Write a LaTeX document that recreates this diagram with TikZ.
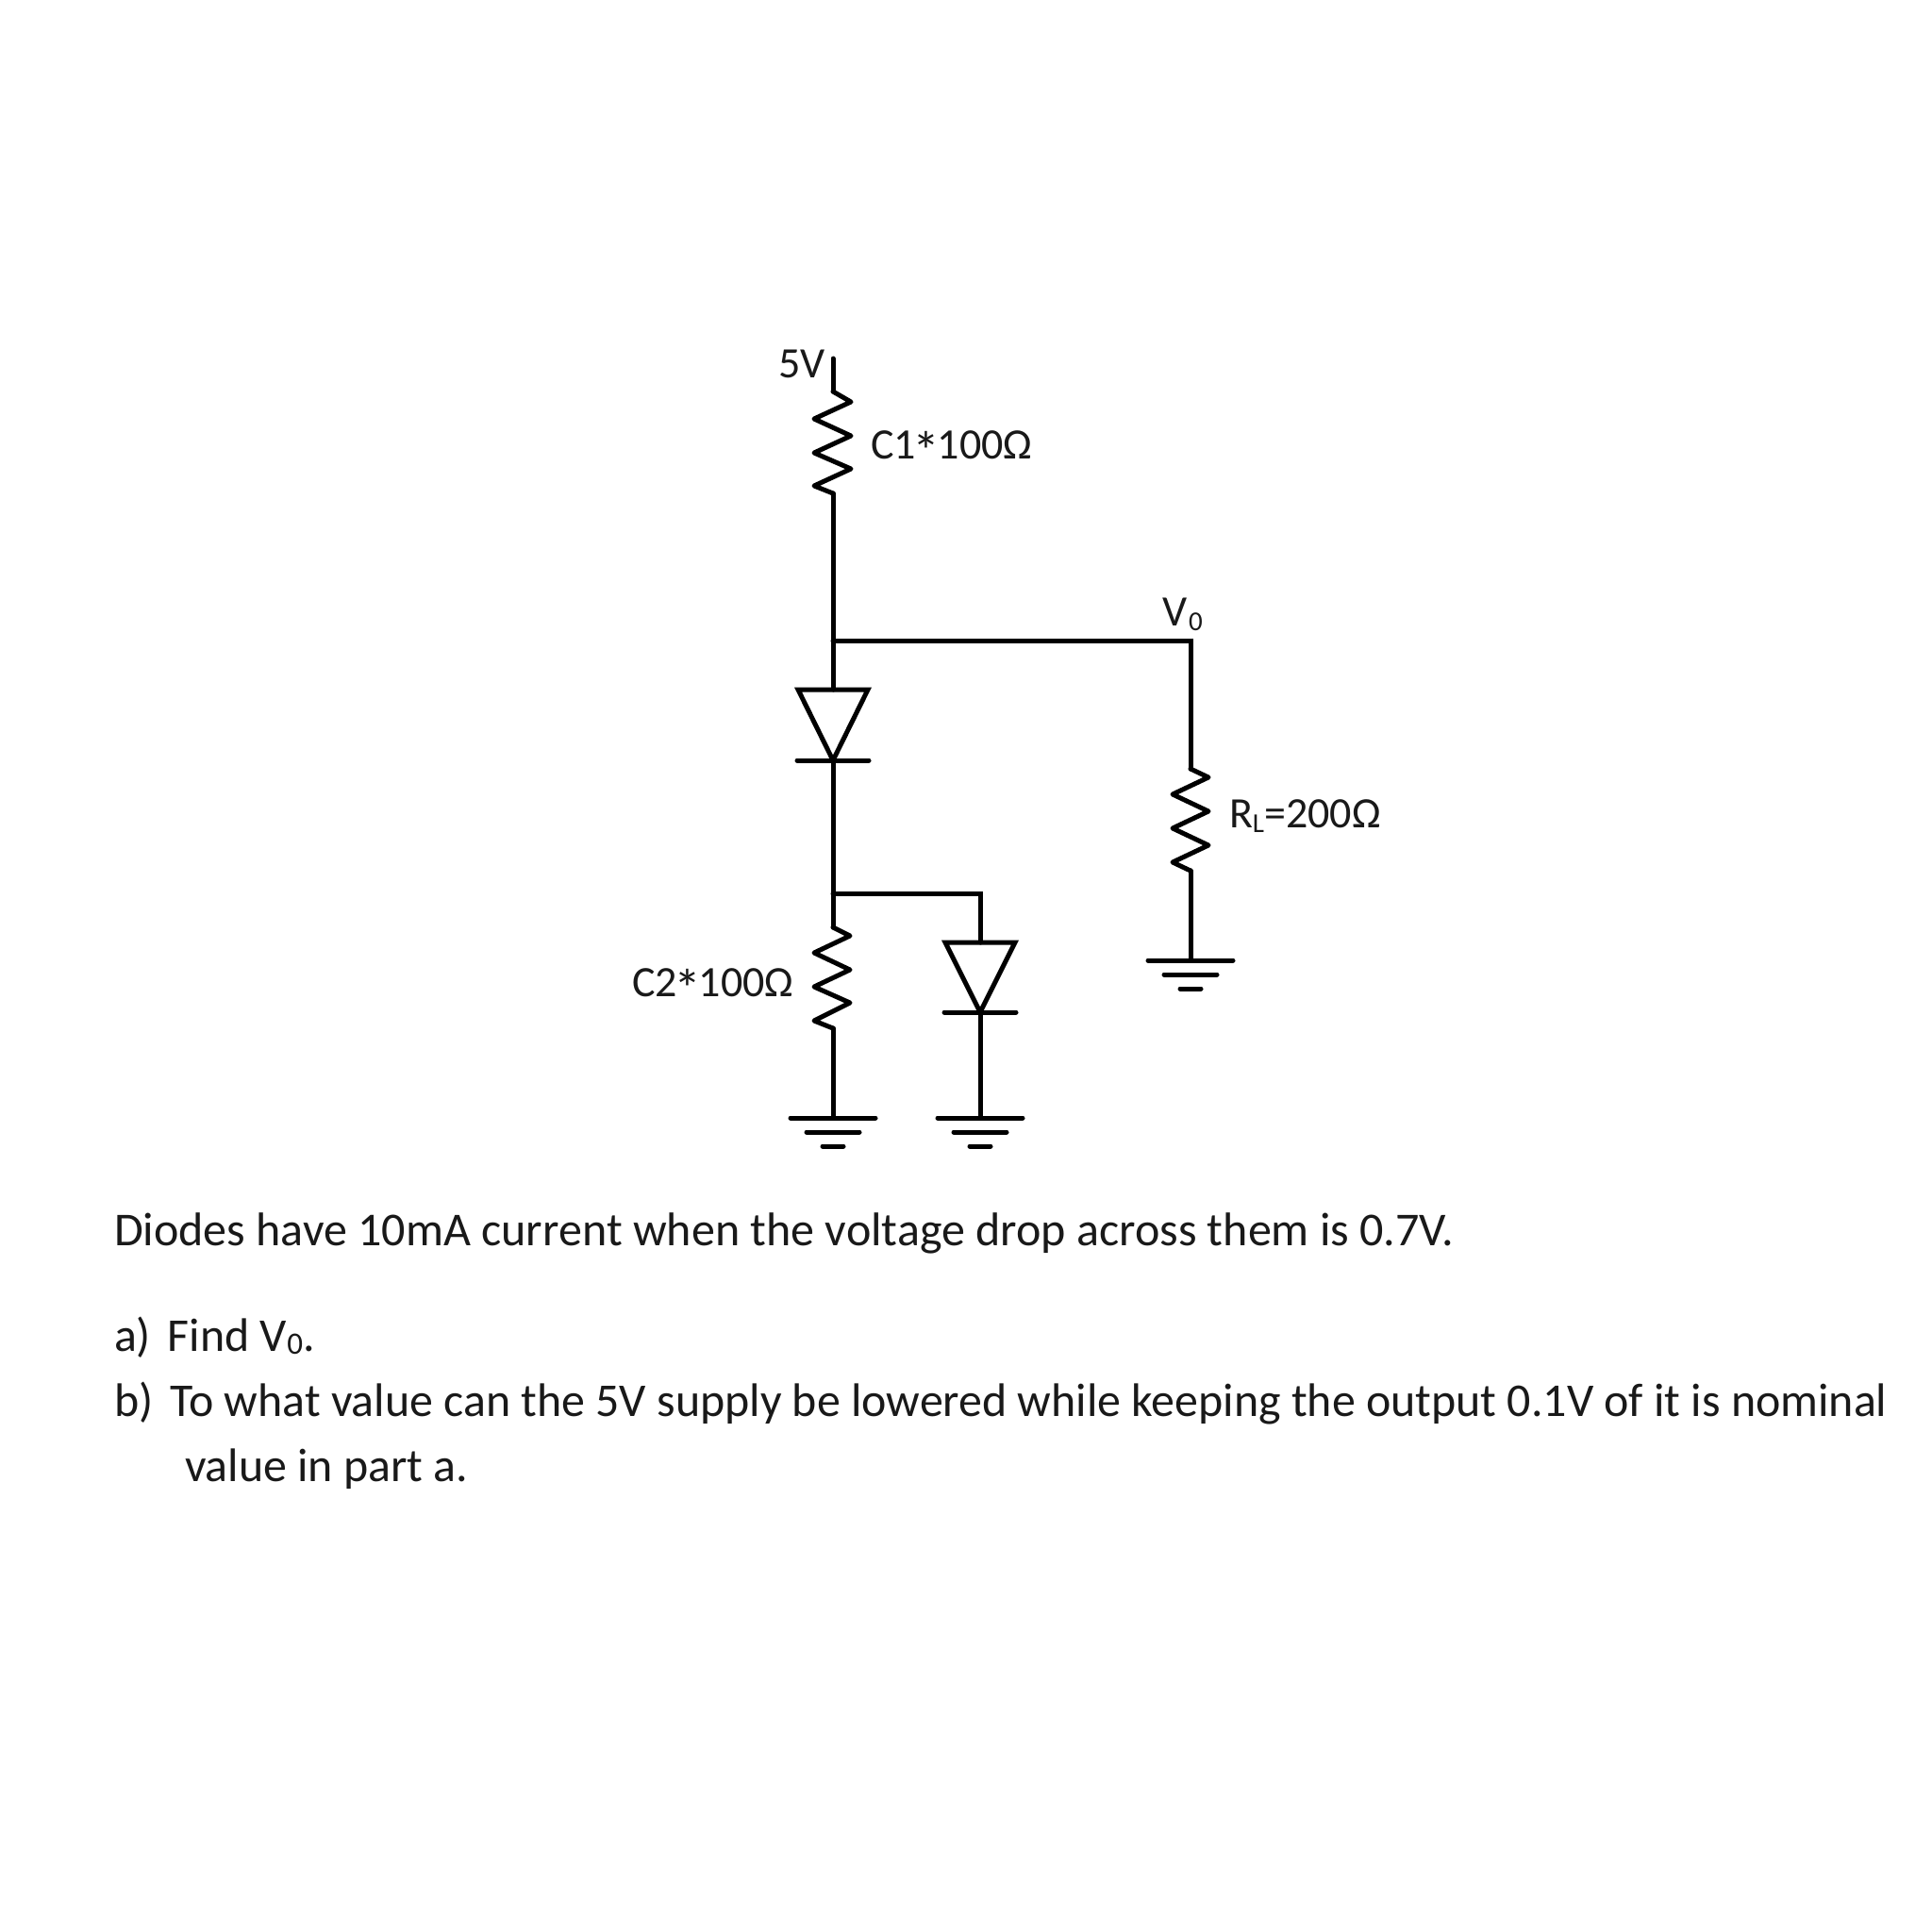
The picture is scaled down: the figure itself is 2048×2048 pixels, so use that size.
\documentclass[tikz,border=0pt]{standalone}
\usepackage{fontspec}
\setmainfont{Carlito}
\newcommand{\sm}{\fontsize{46}{54}\selectfont}
\newcommand{\bg}{\fontsize{49.9}{58}\selectfont}
\newcommand{\subs}[1]{\raisebox{-5pt}{\fontsize{29}{32}\selectfont #1}}
\newcommand{\subb}[1]{\raisebox{-3pt}{\fontsize{33}{38}\selectfont #1}}
\newcommand{\aster}{\makebox[23pt][c]{\raisebox{-12pt}{\fontsize{58}{60}\selectfont *}}}
\tikzset{
  wire/.style={line width=5pt,black,line cap=round,line join=miter},
  lab/.style={inner sep=0pt,outer sep=0pt,anchor=base west,text=black!90},
}
\begin{document}
\begin{tikzpicture}[x=1pt,y=-1pt]
\useasboundingbox (0,0) rectangle (2048,2048);
\fill[white] (0,0) rectangle (2048,2048);
% junctions and terminals
\coordinate (top) at (883,380);
\coordinate (r1a) at (883,415);
\coordinate (r1b) at (883,523);
\coordinate (j1) at (883,679);
\coordinate (d1a) at (883,731);
\coordinate (d1c) at (883,806);
\coordinate (j2) at (883,947);
\coordinate (r2a) at (883,983);
\coordinate (r2b) at (883,1090);
\coordinate (g1) at (883,1185);
\coordinate (j3) at (1039,947);
\coordinate (d2a) at (1039,999);
\coordinate (d2c) at (1039,1073);
\coordinate (g2) at (1039,1185);
\coordinate (vo) at (1262,679);
\coordinate (r3a) at (1262,815);
\coordinate (r3b) at (1262,923);
\coordinate (g3) at (1262,1018);
% wires
\draw[wire] (top) -- (r1a);
\draw[wire] (r1b) -- (j1) -- (d1a);
\draw[wire] (d1c) -- (j2) -- (r2a);
\draw[wire] (r2b) -- (g1);
\draw[wire] (j2) -- (j3) -- (d2a);
\draw[wire] (d2c) -- (g2);
\draw[wire] (j1) -- (vo) -- (r3a);
\draw[wire] (r3b) -- (g3);
% resistors
\draw[wire,line join=round] (r1a) -- (902,426) -- (863,444) -- (902,462) -- (863,480) -- (902,497) -- (863,515) -- (r1b);
\draw[wire,line join=round] (r2a) -- (901,992) -- (863,1010) -- (901,1028) -- (863,1046) -- (901,1063) -- (863,1082) -- (r2b);
\draw[wire,line join=round] (r3a) -- (1281,824) -- (1243,842) -- (1281,860) -- (1243,878) -- (1281,896) -- (1243,914) -- (r3b);
% diodes
\draw[wire] (846,731) -- (920,731) -- (d1c) -- cycle;
\draw[wire] (845,806) -- (921,806);
\draw[wire] (1002,999) -- (1076,999) -- (d2c) -- cycle;
\draw[wire] (1001,1073) -- (1077,1073);
% grounds
\foreach \gx/\gy in {883/1185,1039/1185,1262/1018}{
  \draw[wire] (\gx-45,\gy) -- (\gx+45,\gy);
  \draw[wire] (\gx-28,\gy+15) -- (\gx+28,\gy+15);
  \draw[wire] (\gx-11,\gy+30) -- (\gx+11,\gy+30);
}
% labels
\node[lab] (t5v) at (825,400) {\sm 5V};
\node[lab] (tc1) at (923,486) {\sm C1\aster 100Ω};
\node[lab] (tvo) at (1232,663) {\sm V\kern2pt\subs{0}};
\node[lab] (trl) at (1303,877) {\sm R\subs{L}=200Ω};
\node[lab] (tc2) at (670,1056) {\sm C2\aster 100Ω};
\node[lab] (t1) at (121,1320) {\fontsize{50.05}{58}\selectfont Diodes have 10mA current when the voltage drop across them is 0.7V.};
\node[lab] (t2) at (121,1432) {\bg a)\hspace{0.36em}Find V\subb{0}.};
\node[lab] (t3) at (121,1501) {\bg b)\hspace{0.36em}To what value can the 5V supply be lowered while keeping the output 0.1V of it is nominal};
\node[lab] (t4) at (196,1570) {\bg value in part a.};
\end{tikzpicture}
\end{document}
